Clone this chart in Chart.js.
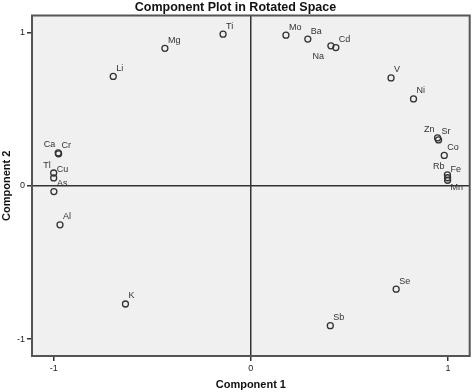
<!DOCTYPE html>
<html>
<head>
<meta charset="utf-8">
<script src="https://cdn.jsdelivr.net/npm/chart.js@4/dist/chart.umd.min.js"></script>
<style>
  body { margin: 0; background: #fff; }
  canvas { display: block; }
</style>
</head>
<body>
<canvas id="plot" width="474" height="392"></canvas>
<script>
const elements = ['Ti', 'Mg', 'Li', 'Mo', 'Ba', 'Na', 'Cd', 'V', 'Ni', 'Zn', 'Sr', 'Co', 'Rb', 'Fe', 'Mn',
  'Ca', 'Cr', 'Tl', 'Cu', 'As', 'Al', 'K', 'Se', 'Sb'];
const component1 = [-0.141, -0.436, -0.698, 0.178, 0.289, 0.406, 0.431, 0.711, 0.825, 0.947, 0.952, 0.981, 0.997, 0.998, 0.998,
  -0.977, -0.975, -1.0, -1.0, -0.999, -0.968, -0.636, 0.737, 0.403];
const component2 = [0.988, 0.896, 0.713, 0.982, 0.956, 0.912, 0.901, 0.703, 0.566, 0.312, 0.299, 0.198, 0.071, 0.052, 0.036,
  0.214, 0.208, 0.083, 0.051, -0.038, -0.255, -0.771, -0.674, -0.912];
const tickValues = [-1, 0, 1];

// where each label sits relative to its point (SPSS moves some to avoid overlap)
const labelSide = { Tl: 'nw', Ca: 'nw', Zn: 'nw', Rb: 'nw', Mn: 'se', Na: 'sw' };

const points = elements.map((name, i) => ({ x: component1[i], y: component2[i] }));

const bgPlugin = {
  id: 'plotBg',
  beforeDraw(chart) {
    const { ctx, chartArea: a } = chart;
    ctx.save();
    ctx.fillStyle = '#f0f0f0';
    ctx.fillRect(a.left, a.top, a.right - a.left, a.bottom - a.top);
    ctx.restore();
  },
  afterDraw(chart) {
    const { ctx, chartArea: a } = chart;
    ctx.save();
    ctx.strokeStyle = '#555';
    ctx.lineWidth = 2;
    ctx.strokeRect(a.left, a.top, a.right - a.left, a.bottom - a.top);
    ctx.restore();
  }
};

const labelPlugin = {
  id: 'pointLabels',
  afterDatasetsDraw(chart) {
    const { ctx } = chart;
    const meta = chart.getDatasetMeta(0);
    ctx.save();
    ctx.font = '9px "Liberation Sans", Arial, sans-serif';
    ctx.fillStyle = '#333';
    ctx.textBaseline = 'middle';
    meta.data.forEach((pt, i) => {
      const name = elements[i];
      const side = labelSide[name] || 'ne';
      let x = pt.x, y = pt.y;
      if (side === 'ne') { ctx.textAlign = 'left'; x += 3; y -= 8; }
      else if (side === 'nw') { ctx.textAlign = 'right'; x -= 3; y -= 8; }
      else if (side === 'se') { ctx.textAlign = 'left'; x += 3; y += 7; }
      else if (side === 'sw') { ctx.textAlign = 'right'; x -= 7; y += 11; }
      ctx.fillText(name, x, y);
    });
    ctx.restore();
  }
};

function axisGrid() {
  return {
    color: (c) => (c.tick && c.tick.value === 0 ? '#333' : 'rgba(0,0,0,0)'),
    lineWidth: 1.5,
    tickColor: '#333',
    tickLength: 5,
    drawTicks: true
  };
}

new Chart(document.getElementById('plot'), {
  type: 'scatter',
  data: {
    datasets: [{
      data: points,
      pointRadius: 3,
      pointBorderWidth: 1.3,
      pointBorderColor: '#333',
      pointBackgroundColor: 'rgba(0,0,0,0)',
      pointHoverRadius: 3
    }]
  },
  plugins: [bgPlugin, labelPlugin],
  options: {
    responsive: false,
    animation: false,
    layout: { padding: { left: 0, right: 3, top: 0, bottom: 0 } },
    plugins: {
      legend: { display: false },
      tooltip: { enabled: false },
      title: {
        display: true,
        text: 'Component Plot in Rotated Space',
        color: '#111',
        font: { family: '"Liberation Sans", Arial, sans-serif', size: 12.5, weight: 'bold', lineHeight: 1.2 },
        padding: { top: 0, bottom: 0.5 }
      }
    },
    scales: {
      x: {
        type: 'linear',
        min: -1.11,
        max: 1.11,
        afterBuildTicks: (s) => { s.ticks = tickValues.map(v => ({ value: v })); },
        afterFit: (s) => { s.height = 36; },
        grid: axisGrid(),
        border: { display: false },
        ticks: {
          color: '#222',
          padding: 2,
          font: { family: '"Liberation Sans", Arial, sans-serif', size: 9 },
          callback: (v) => String(v)
        },
        title: {
          display: true,
          text: 'Component 1',
          color: '#111',
          padding: { top: 0, bottom: 0 },
          font: { family: '"Liberation Sans", Arial, sans-serif', size: 11, weight: 'bold', lineHeight: 1.2 }
        }
      },
      y: {
        type: 'linear',
        min: -1.11,
        max: 1.11,
        afterBuildTicks: (s) => { s.ticks = tickValues.map(v => ({ value: v })); },
        afterFit: (s) => { s.width = 32; },
        grid: axisGrid(),
        border: { display: false },
        ticks: {
          color: '#222',
          padding: 2,
          font: { family: '"Liberation Sans", Arial, sans-serif', size: 9 },
          callback: (v) => String(v)
        },
        title: {
          display: true,
          text: 'Component 2',
          color: '#111',
          padding: { top: 0, bottom: 0 },
          font: { family: '"Liberation Sans", Arial, sans-serif', size: 11, weight: 'bold', lineHeight: 1.2 }
        }
      }
    }
  }
});
</script>
</body>
</html>
